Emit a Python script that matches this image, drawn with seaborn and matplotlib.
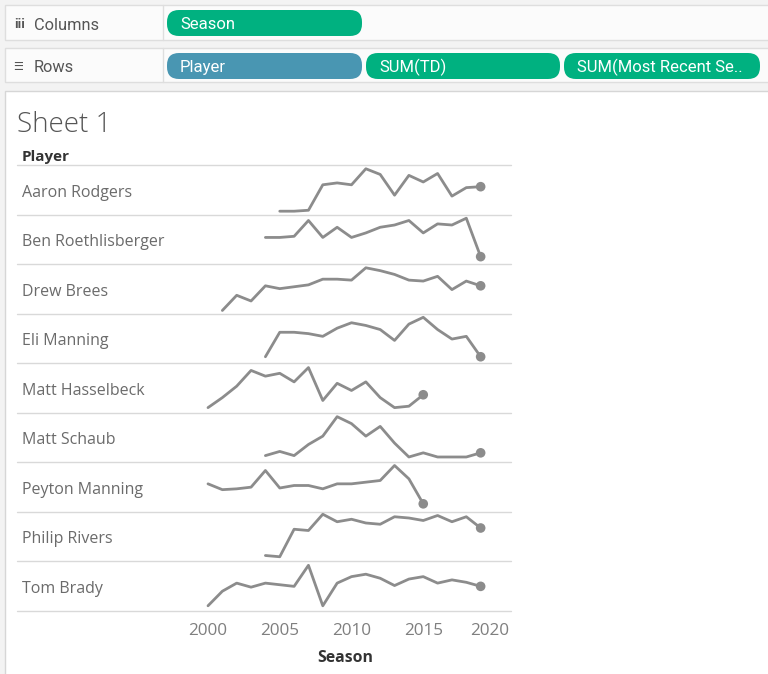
"""Tableau-style sparkline sheet: passing TDs by season for nine quarterbacks"""

import pandas as pd
import matplotlib.pyplot as plt
import matplotlib.transforms as mtransforms
import seaborn as sns
from matplotlib.patches import FancyBboxPatch, Rectangle

# ---- data -------------------------------------------------------------
players = [
    'Aaron Rodgers', 'Ben Roethlisberger', 'Drew Brees', 'Eli Manning',
    'Matt Hasselbeck', 'Matt Schaub', 'Peyton Manning', 'Philip Rivers',
    'Tom Brady',
]

rodgers_seasons = [2005, 2006, 2007, 2008, 2009, 2010, 2011, 2012, 2013, 2014, 2015, 2016, 2017, 2018, 2019]
rodgers_td = [0, 0, 1, 28, 30, 28, 45, 39, 17, 38, 31, 40, 16, 25, 26]

roethlisberger_seasons = [2004, 2005, 2006, 2007, 2008, 2009, 2010, 2011, 2012, 2013, 2014, 2015, 2016, 2017, 2018, 2019]
roethlisberger_td = [17, 17, 18, 32, 17, 26, 17, 21, 26, 28, 32, 21, 29, 28, 34, 0]

brees_seasons = [2001, 2002, 2003, 2004, 2005, 2006, 2007, 2008, 2009, 2010, 2011, 2012, 2013, 2014, 2015, 2016, 2017, 2018, 2019]
brees_td = [1, 17, 11, 27, 24, 26, 28, 34, 34, 33, 46, 43, 39, 33, 32, 37, 23, 32, 27]

eli_seasons = [2004, 2005, 2006, 2007, 2008, 2009, 2010, 2011, 2012, 2013, 2014, 2015, 2016, 2017, 2018, 2019]
eli_td = [6, 24, 24, 23, 21, 27, 31, 29, 26, 18, 30, 35, 26, 19, 21, 6]

hasselbeck_seasons = [2000, 2001, 2002, 2003, 2004, 2005, 2006, 2007, 2008, 2009, 2010, 2011, 2012, 2013, 2014, 2015]
hasselbeck_td = [0, 7, 15, 26, 22, 24, 18, 28, 5, 17, 12, 18, 7, 0, 1, 9]

schaub_seasons = [2004, 2005, 2006, 2007, 2008, 2009, 2010, 2011, 2012, 2013, 2014, 2015, 2016, 2017, 2018, 2019]
schaub_td = [1, 4, 1, 9, 15, 29, 24, 15, 22, 10, 0, 3, 0, 0, 0, 3]

# no 2011 season for Peyton Manning
peyton_seasons = [2000, 2001, 2002, 2003, 2004, 2005, 2006, 2007, 2008, 2009, 2010, 2012, 2013, 2014, 2015]
peyton_td = [33, 26, 27, 29, 49, 28, 31, 31, 27, 33, 33, 37, 55, 39, 9]

rivers_seasons = [2004, 2005, 2006, 2007, 2008, 2009, 2010, 2011, 2012, 2013, 2014, 2015, 2016, 2017, 2018, 2019]
rivers_td = [1, 0, 22, 21, 34, 28, 30, 27, 26, 32, 31, 29, 33, 28, 32, 23]

brady_seasons = [2000, 2001, 2002, 2003, 2004, 2005, 2006, 2007, 2008, 2009, 2010, 2011, 2012, 2013, 2014, 2015, 2016, 2017, 2018, 2019]
brady_td = [0, 18, 28, 23, 28, 26, 24, 50, 0, 28, 36, 39, 34, 25, 33, 36, 28, 32, 29, 24]

most_recent_season = [2019, 2019, 2019, 2019, 2015, 2019, 2015, 2019, 2019]
most_recent_td = [26, 0, 27, 6, 9, 3, 9, 23, 24]

season_ticks = [2000, 2005, 2010, 2015, 2020]

# independent axis range per row (like Tableau's "independent axis ranges")
td_axis_ranges = [
    (-3.5, 49.0), (-6.5, 37.3), (-2.2, 50.0), (1.4, 37.8), (-3.4, 31.2),
    (-3.6, 32.0), (-0.2, 59.2), (-3.4, 36.2), (-5.8, 55.3),
]

seasons_by_player = [rodgers_seasons, roethlisberger_seasons, brees_seasons, eli_seasons,
                     hasselbeck_seasons, schaub_seasons, peyton_seasons, rivers_seasons, brady_seasons]
td_by_player = [rodgers_td, roethlisberger_td, brees_td, eli_td,
                hasselbeck_td, schaub_td, peyton_td, rivers_td, brady_td]

df = pd.concat([
    pd.DataFrame({'Player': p, 'Season': s, 'TD': t})
    for p, s, t in zip(players, seasons_by_player, td_by_player)
], ignore_index=True)
recent = pd.DataFrame({'Player': players, 'Season': most_recent_season, 'TD': most_recent_td})

# ---- styling ----------------------------------------------------------
sns.set_theme(style='white')
plt.rcParams['font.family'] = ['Open Sans', 'DejaVu Sans']

W, H = 768, 674
LINE = '#8c8c8c'
GREEN = '#00b180'
BLUE = '#4996b2'

fig = plt.figure(figsize=(W / 100, H / 100), dpi=100, facecolor='#f3f3f3')

# background canvas in pixel units
bg = fig.add_axes([0, 0, 1, 1], zorder=0)
bg.set_xlim(0, W)
bg.set_ylim(H, 0)
bg.axis('off')

# shelves
for y0, y1 in [(5, 40), (48, 82)]:
    bg.add_patch(Rectangle((5, y0), W, y1 - y0, facecolor='#fbfbfb', edgecolor='#dedede', lw=1))
    bg.plot([163, 163], [y0, y1], color='#dedede', lw=1)

bg.text(14, 25, 'iii', fontsize=9.5, color='#555555', va='center', family='Roboto', fontweight='bold')
bg.text(34, 25, 'Columns', fontsize=11.8, color='#555555', va='center', family='Roboto')
bg.text(13, 67, '\u2630', fontsize=8, color='#555555', va='center', family='DejaVu Sans')
bg.text(34, 67, 'Rows', fontsize=11.8, color='#555555', va='center', family='Roboto')

pills = [
    (167, 10, 195, 'Season', GREEN),
    (167, 53, 195, 'Player', BLUE),
    (366, 53, 194, 'SUM(TD)', GREEN),
    (564, 53, 196, 'SUM(Most Recent Se..', GREEN),
]
for x0, y0, w, label, color in pills:
    bg.add_patch(FancyBboxPatch((x0, y0), w, 26,
                                boxstyle='round,pad=0,rounding_size=12',
                                facecolor=color, edgecolor='none'))
    bg.text(x0 + 13, y0 + 14.5, label, fontsize=12, color='white', va='center', family='Roboto')

# sheet panel
bg.add_patch(Rectangle((5, 91), W, H, facecolor='white', edgecolor='#d6d6d6', lw=1))
bg.text(17, 125, 'Sheet 1', fontsize=20, color='#555555', va='center', fontweight='light')
bg.text(22, 157, 'Player', fontsize=11, color='#333333', va='center', fontweight='bold')

row_top = 165
row_h = 49.5
pane_left, pane_right = 180, 511
px_per_year = 14.35
x_at_2000 = 208

for i in range(len(players) + 1):
    y = row_top + i * row_h
    bg.plot([17, pane_right], [y, y], color='#d9d9d9', lw=1)

for i, player in enumerate(players):
    y_top = row_top + i * row_h
    bg.text(22, y_top + row_h / 2 + 3, player, fontsize=11.5, color='#6b6b6b', va='center')

    ax = fig.add_axes([pane_left / W, 1 - (y_top + row_h) / H,
                       (pane_right - pane_left) / W, row_h / H], zorder=2)
    ax.patch.set_alpha(0)
    sub = df[df['Player'] == player]
    sns.lineplot(data=sub, x='Season', y='TD', ax=ax, color=LINE, lw=2.0, sort=True)
    sns.scatterplot(data=recent[recent['Player'] == player], x='Season', y='TD', ax=ax,
                    color=LINE, s=48, edgecolor='none', zorder=3)
    ax.set_xlim(2000 - (x_at_2000 - pane_left) / px_per_year,
                2000 + (pane_right - x_at_2000) / px_per_year)
    ax.set_ylim(*td_axis_ranges[i])
    ax.set_xlabel('')
    ax.set_ylabel('')
    for sp in ax.spines.values():
        sp.set_visible(False)
    ax.set_yticks([])
    if i == len(players) - 1:
        ax.set_xticks(season_ticks)
        ax.tick_params(axis='x', length=3, color='#ececec', pad=6, labelsize=12.3,
                       labelcolor='#7f7f7f')
        # Tableau keeps the last label inside the pane
        last = ax.get_xticklabels()[-1]
        last.set_transform(last.get_transform() +
                           mtransforms.ScaledTranslation(-5 / 100, 0, fig.dpi_scale_trans))
    else:
        ax.set_xticks([])

bg.text(345, 658, 'Season', fontsize=11.3, color='#333333', va='center', ha='center',
        fontweight='bold')

fig.savefig('out.png', dpi=100, facecolor=fig.get_facecolor())
